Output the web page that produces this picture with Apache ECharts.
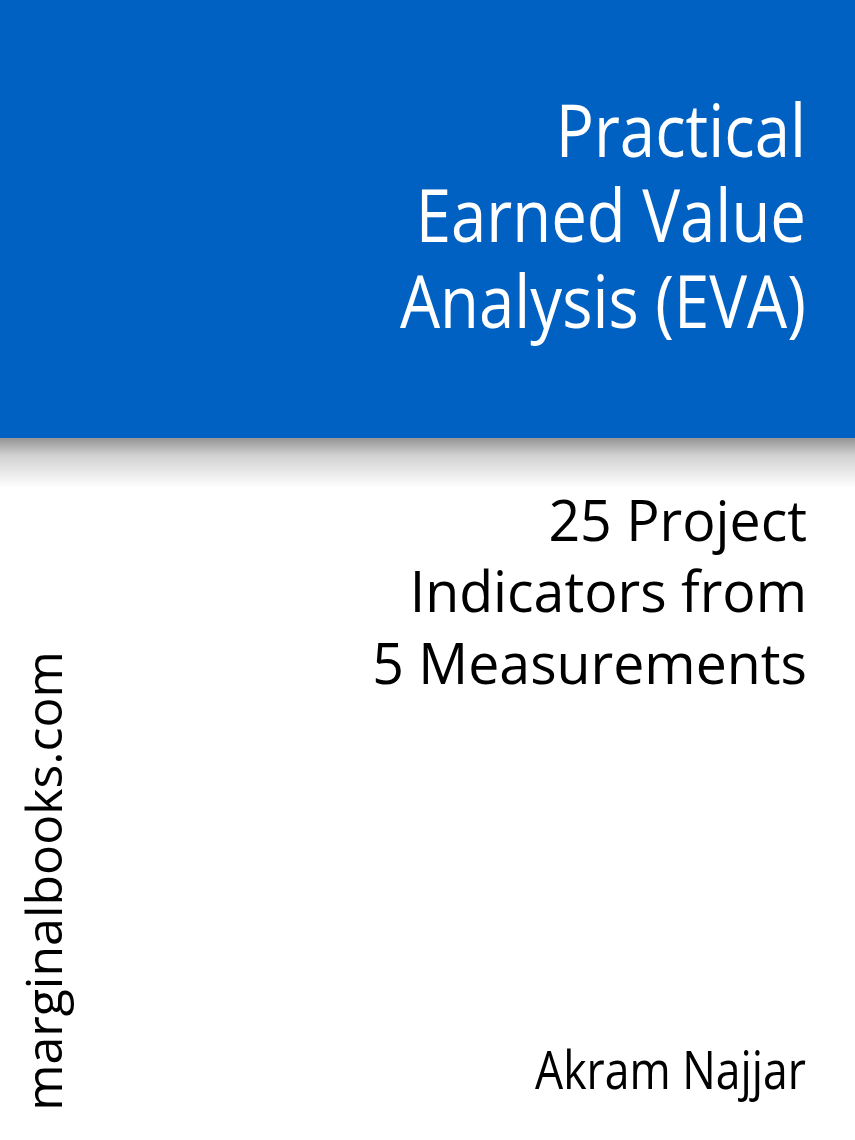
<!DOCTYPE html>
<html>
<head>
<meta charset="utf-8">
<style>html,body{margin:0;padding:0;background:#fff;}#c{width:855px;height:1140px;}</style>
<script src="https://cdn.jsdelivr.net/npm/echarts@6/dist/echarts.min.js"></script>
</head>
<body>
<div id="c"></div>
<script>
var titleLines = ['Practical', 'Earned Value', 'Analysis (EVA)'];
var subtitleLines = ['25 Project', 'Indicators from', '5 Measurements'];
var authorName = 'Akram Najjar';
var siteName = 'marginalbooks.com';

var chart = echarts.init(document.getElementById('c'), null, {renderer: 'canvas'});
var FONT = '"Open Sans"';
var els = [];
els.push({type: 'rect', shape: {x: 0, y: 0, width: 855, height: 438}, style: {fill: '#0061C3'}, z: 2});
els.push({type: 'rect', shape: {x: 0, y: 438, width: 855, height: 50}, z: 1,
  style: {fill: new echarts.graphic.LinearGradient(0, 0, 0, 1, [
    {offset: 0, color: 'rgba(0,0,0,0.42)'},
    {offset: 0.35, color: 'rgba(0,0,0,0.18)'},
    {offset: 1, color: 'rgba(0,0,0,0)'}])}});
titleLines.forEach(function (t, i) {
  els.push({type: 'text', x: 806, y: 136 + i * 85.5, z: 3, scaleX: 0.87,
    style: {text: t, fill: '#ffffff', font: '500 73px ' + FONT, align: 'right', verticalAlign: 'middle'}});
});
subtitleLines.forEach(function (t, i) {
  els.push({type: 'text', x: 807, y: 525 + i * 71.5, z: 3, scaleX: 0.99,
    style: {text: t, fill: '#000000', font: '56px ' + FONT, align: 'right', verticalAlign: 'middle'}});
});
els.push({type: 'text', x: 806, y: 1074, z: 3, scaleX: 0.84,
  style: {text: authorName, fill: '#000000', font: '53px ' + FONT, align: 'right', verticalAlign: 'middle'}});
els.push({type: 'text', x: 48, y: 881, rotation: Math.PI / 2, z: 3,
  style: {text: siteName, fill: '#000000', font: '50px "Open Sans"', align: 'center', verticalAlign: 'middle'}});

chart.setOption({animation: false, graphic: {elements: els}});
</script>
</body>
</html>
